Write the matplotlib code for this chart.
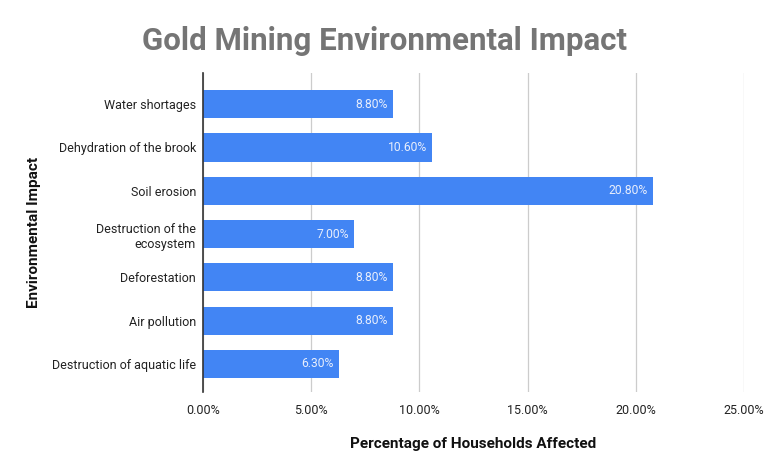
import matplotlib.pyplot as plt
from matplotlib.ticker import FuncFormatter

# data
impacts = ["Water shortages", "Dehydration of the brook", "Soil erosion",
           "Destruction of the\necosystem", "Deforestation", "Air pollution",
           "Destruction of aquatic life"]
percent = [8.8, 10.6, 20.8, 7.0, 8.8, 8.8, 6.3]
xticks = [0, 5, 10, 15, 20, 25]

plt.rcParams['font.family'] = ['Roboto', 'DejaVu Sans']

fig = plt.figure(figsize=(7.68, 4.74), dpi=100)
ax = fig.add_axes([203/768, 1 - 392/474, 541/768, 319/474])

pos = list(range(len(impacts)))
ax.barh(pos, percent, height=0.65, color="#4285f4", zorder=3)
for p, v in zip(pos, percent):
    ax.text(v - 0.25, p, f"{v:.2f}%", ha="right", va="center",
            color="#e8eefc", fontsize=8.7, zorder=4)

ax.set_xlim(0, 25)
ax.set_ylim(6.65, -0.72)
ax.set_xticks(xticks)
ax.xaxis.set_major_formatter(FuncFormatter(lambda x, _: f"{x:.2f}%"))
ax.set_yticks(pos)
ax.set_yticklabels(impacts)
ax.tick_params(axis="both", length=0, labelsize=9, colors="#222222")
ax.tick_params(axis="x", pad=9)
ax.tick_params(axis="y", pad=5)
ax.grid(axis="x", color="#cccccc", linewidth=0.9, zorder=0)
for s in ["top", "right", "bottom"]:
    ax.spines[s].set_visible(False)
ax.spines["left"].set_color("#333333")
ax.spines["left"].set_linewidth(1.2)
ax.spines["left"].set_zorder(5)

ax.set_xlabel("Percentage of Households Affected", fontsize=11,
              fontweight="bold", color="#111111", labelpad=14)
ax.set_ylabel("Environmental Impact", fontsize=11, fontweight="bold",
              color="#111111")
ax.yaxis.set_label_coords(-0.30, 0.5)
fig.suptitle("Gold Mining Environmental Impact", x=0.5, y=0.945,
             fontsize=22.5, fontweight="bold", color="#757575")

fig.savefig("out.png", dpi=100, facecolor="white")
